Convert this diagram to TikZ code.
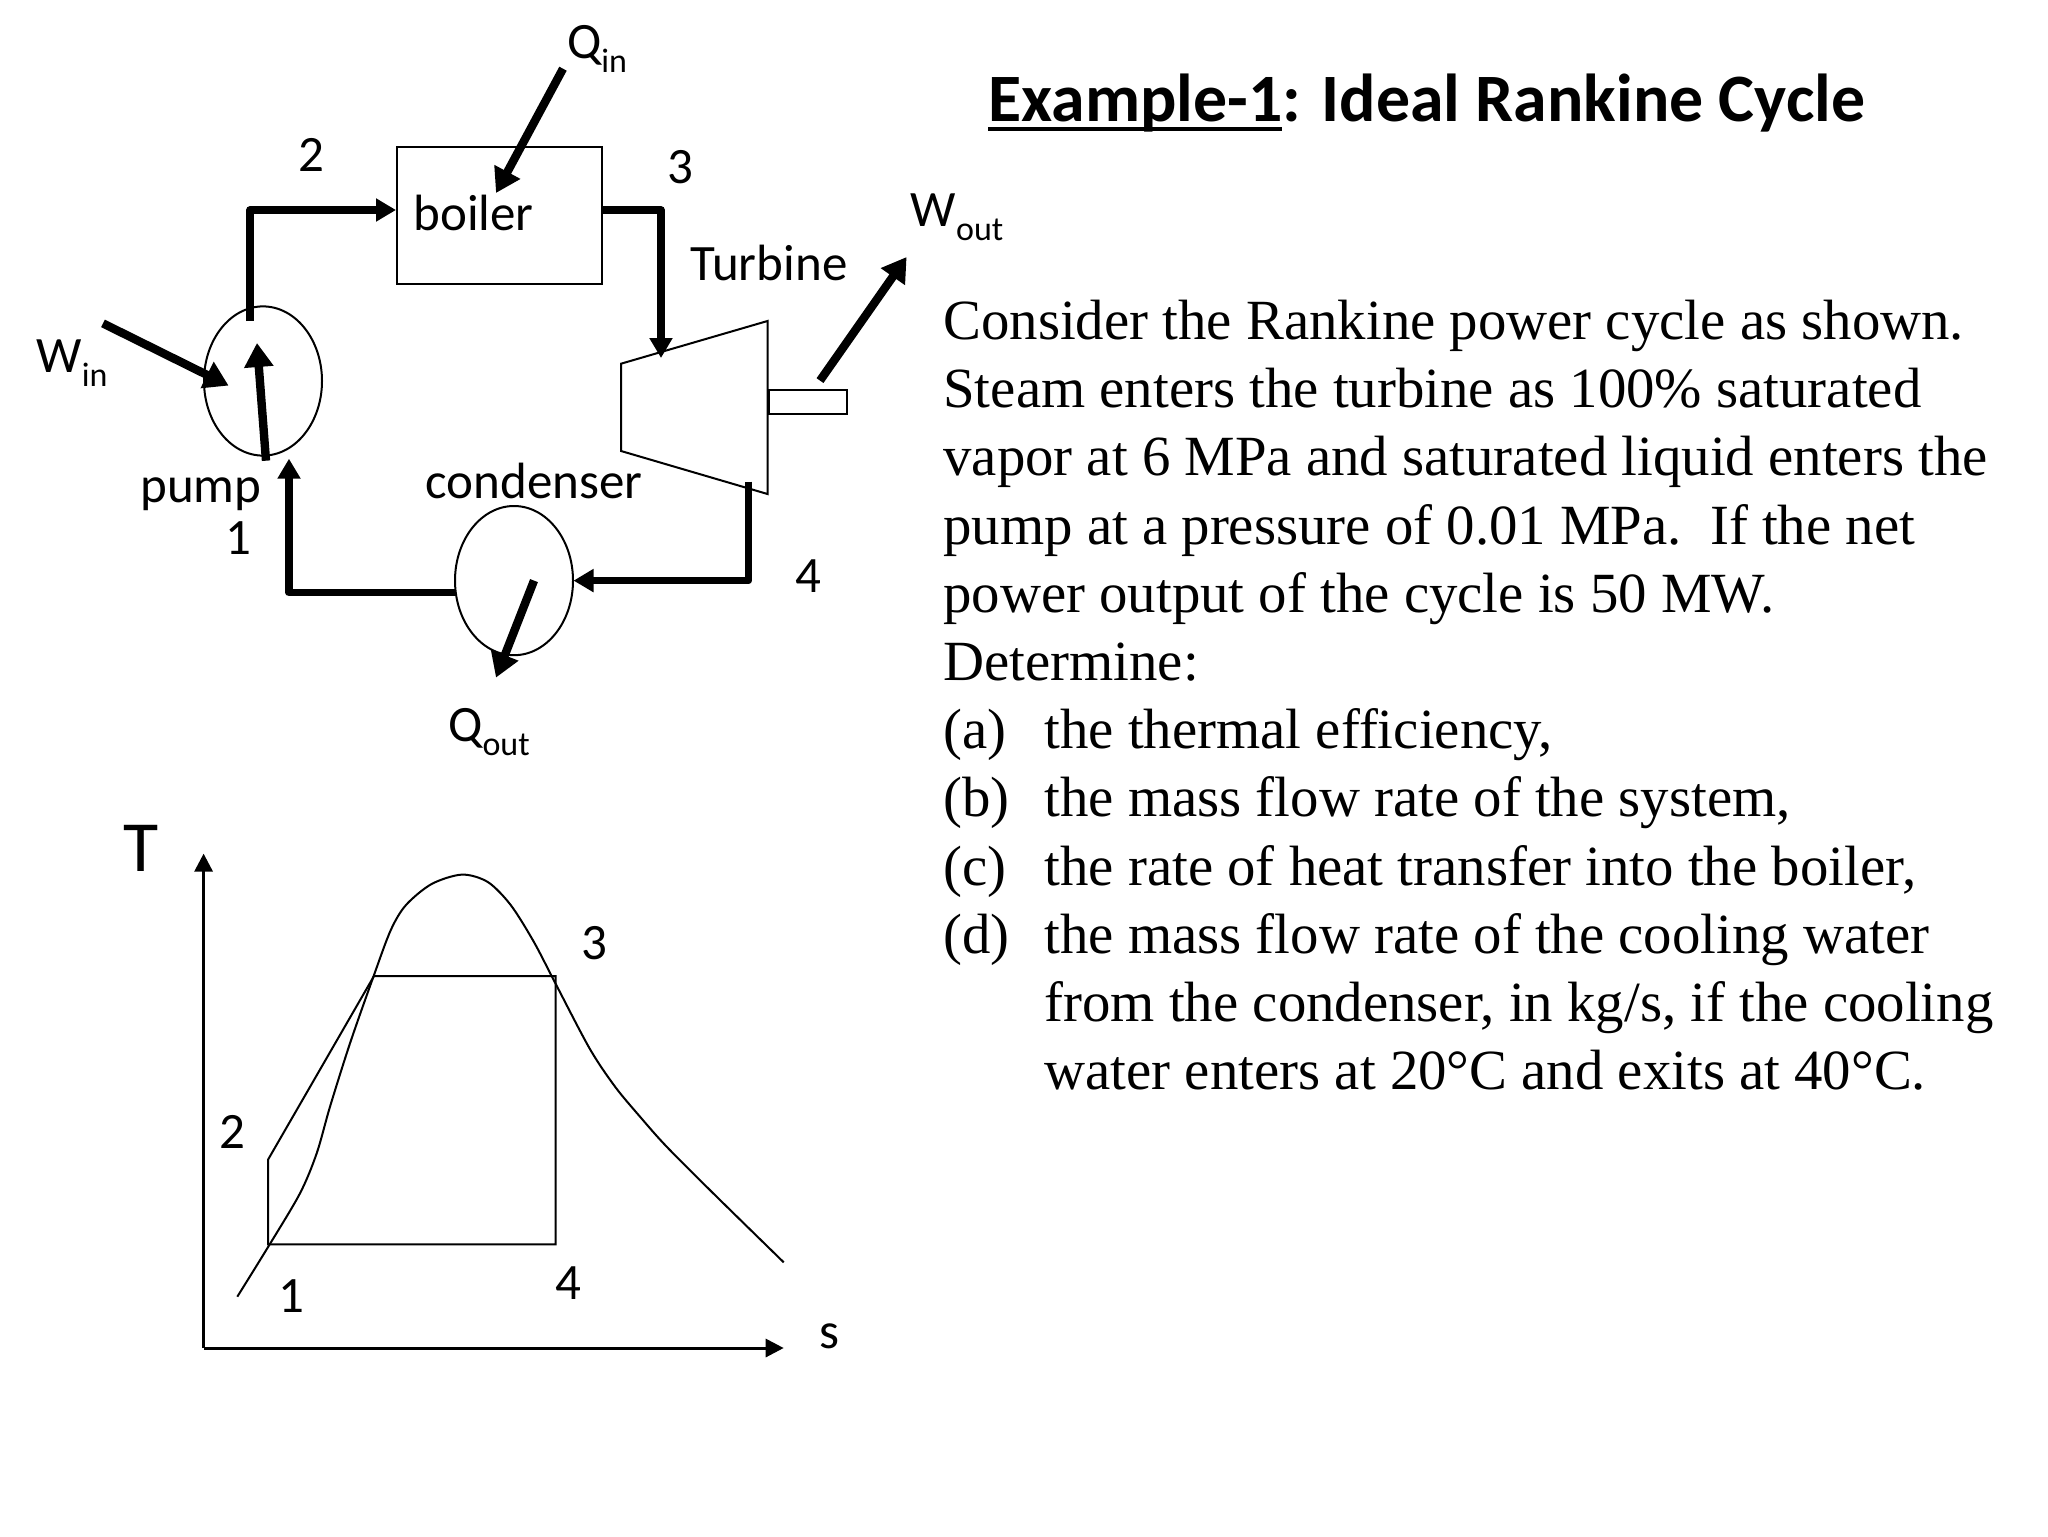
\documentclass[tikz,border=0pt]{standalone}
\usepackage{fontspec}
\setmainfont{Liberation Serif}
\newfontfamily\labelfont{Carlito}
\usetikzlibrary{arrows.meta, shapes.geometric}

\newcommand{\lowtext}[1]{\raisebox{-0.28em}{\fontsize{17}{17}\selectfont #1}}
\newcommand{\ulbold}[1]{\sbox0{#1}\rlap{\rule[-5pt]{\wd0}{2pt}}\usebox0}
\newcommand{\itemrow}[2]{\makebox[50.6pt][l]{#1}#2}

\tikzset{
	lbl/.style={font=\labelfont\fontsize{25.5}{27}\selectfont, inner sep=0pt},
	thinline/.style={black, line width=1pt},
	pipe/.style={black, line width=3.7pt, line join=round},
	pipearrow/.style={pipe, -{Triangle[length=10pt,width=11pt]}},
	heatarrow/.style={black, line width=4.2pt, -{Triangle[length=12pt,width=14pt]}},
	unit/.style={draw, thinline, inner sep=0pt, outer sep=0pt},
	axisline/.style={black, line width=1.5pt, -{Triangle[length=9pt,width=9pt]}}
}

\begin{document}
\begin{tikzpicture}[x=0.5pt, y=-0.5pt]
	\useasboundingbox (0,0) rectangle (2048,1536);

	% Title and problem text
	\node[anchor=base west, inner sep=0pt, font=\labelfont\bfseries\fontsize{33.9}{38}\selectfont] (title) at (988,121) {\ulbold{Example-1}: Ideal Rankine Cycle};
	\node[anchor=north west, inner sep=0pt, align=left, font=\fontsize{28.4}{34.1}\selectfont] (problem) at (943,299.6) {Consider the Rankine power cycle as shown.\\
		Steam enters the turbine as 100\% saturated\\
		vapor at 6 MPa and saturated liquid enters the\\
		pump at a pressure of 0.01 MPa.~~If the net\\
		power output of the cycle is 50 MW.\\
		Determine:\\
		\itemrow{(a)}{the thermal efficiency,}\\
		\itemrow{(b)}{the mass flow rate of the system,}\\
		\itemrow{(c)}{the rate of heat transfer into the boiler,}\\
		\itemrow{(d)}{the mass flow rate of the cooling water}\\
		\itemrow{}{from the condenser, in kg/s, if the cooling}\\
		\itemrow{}{water enters at 20\textdegree C and exits at 40\textdegree C.}};

	% Plant components
	\node[unit, rectangle, minimum width=102.75pt, minimum height=68.3pt] (boiler) at (499.25,215.3) {};
	\node[unit, ellipse, minimum width=59pt, minimum height=74.6pt] (pump) at (263,381) {};
	\node[unit, ellipse, minimum width=59pt, minimum height=74.6pt] (condenser) at (514,580.6) {};
	\node[unit, rectangle, minimum width=38.75pt, minimum height=12.25pt] (shaft) at (807.75,401.75) {};
	\coordinate (tbA) at (621,363.7);
	\coordinate (tbB) at (767.5,321);
	\coordinate (tbC) at (767.5,494);
	\coordinate (tbD) at (621,451);
	\draw[thinline] (tbA) -- (tbB) -- (tbC) -- (tbD) -- cycle;

	% Pipes of the cycle
	\coordinate (pumpOut) at (250,321);
	\coordinate (bendB) at (250,210);
	\coordinate (boilerIn) at (396,210);
	\coordinate (boilerOut) at (602,210);
	\coordinate (bendC) at (661,210);
	\coordinate (turbineIn) at (661,358);
	\coordinate (turbineOut) at (748.5,481.6);
	\coordinate (bendD) at (748.5,580.6);
	\coordinate (condIn) at (573.5,580.6);
	\coordinate (condOut) at (455,592.5);
	\coordinate (bendA) at (289,592.5);
	\coordinate (pumpIn) at (289,458.7);
	\draw[pipearrow] (pumpOut) -- (bendB) -- (boilerIn);
	\draw[pipearrow] (boilerOut) -- (bendC) -- (turbineIn);
	\draw[pipearrow] (turbineOut) -- (bendD) -- (condIn);
	\draw[pipearrow] (condOut) -- (bendA) -- (pumpIn);

	% Heat and work arrows
	\coordinate (winA) at (103,323.4);
	\coordinate (winB) at (228.6,385.6);
	\coordinate (pumpA) at (266,460.7);
	\coordinate (pumpB) at (257,343);
	\coordinate (qinA) at (563,68.7);
	\coordinate (qinB) at (496,193);
	\coordinate (woutA) at (820,380.6);
	\coordinate (woutB) at (906.6,257);
	\coordinate (qoutA) at (534,580.6);
	\coordinate (qoutB) at (496,677.6);
	\draw[heatarrow] (winA) -- (winB);
	\draw[heatarrow] (pumpA) -- (pumpB);
	\draw[heatarrow] (qinA) -- (qinB);
	\draw[heatarrow] (woutA) -- (woutB);
	\draw[heatarrow] (qoutA) -- (qoutB);

	% Plant labels
	\node[lbl] (lblBoiler) at (473.5,213) {boiler};
	\node[lbl] (lblTurbine) at (769,263) {Turbine};
	\node[lbl] (lblPump) at (201,494) {pump};
	\node[lbl] (lblCondenser) at (534,481) {condenser};
	\node[lbl] (lblTwo) at (311,155) {2};
	\node[lbl] (lblThree) at (680.6,167) {3};
	\node[lbl] (lblFour) at (808.6,576) {4};
	\node[lbl] (lblOne) at (238,538) {1};
	\node[lbl] (lblQin) at (597,49) {Q\lowtext{in}};
	\node[lbl] (lblWout) at (957,217) {W\lowtext{out}};
	\node[lbl] (lblWin) at (72,363) {W\lowtext{in}};
	\node[lbl] (lblQout) at (489,732) {Q\lowtext{out}};

	% T-s diagram
	\coordinate (origin) at (203.6,1348);
	\coordinate (tTop) at (203.6,853.6);
	\coordinate (sEnd) at (783.7,1348);
	\draw[axisline] (origin) -- (tTop);
	\draw[axisline] (origin) -- (sEnd);
	\coordinate (st1) at (268,1244.3);
	\coordinate (st2) at (268,1159.7);
	\coordinate (stF) at (374,976);
	\coordinate (st3) at (555.6,976);
	\coordinate (st4) at (555.6,1244.3);
	\draw[thinline] (st1) -- (st2) -- (stF) -- (st3) -- (st4) -- cycle;
	\draw[thinline] plot[smooth, tension=0.5] coordinates {(237.3,1296.7) (269.3,1245) (300,1193.3) (316.7,1153.3) (330,1106.7) (350,1043.3) (374,975) (390.8,930) (406,905) (431.6,884) (462,874.6) (487.8,882) (510.7,905) (533.7,941.6) (555.6,983.7) (589.8,1048.8) (615.3,1087) (640.8,1117.6) (666.3,1146.3) (712.2,1192.3) (783.7,1262.3)};

	% Diagram labels
	\node[lbl, font=\labelfont\fontsize{36}{38}\selectfont] (lblT) at (141,848) {T};
	\node[lbl] (lblS) at (829.6,1336) {s};
	\node[lbl] (lblStTwo) at (232.7,1132) {2};
	\node[lbl] (lblStThree) at (594,943.5) {3};
	\node[lbl] (lblStOne) at (291,1296) {1};
	\node[lbl] (lblStFour) at (568,1283) {4};
\end{tikzpicture}
\end{document}
